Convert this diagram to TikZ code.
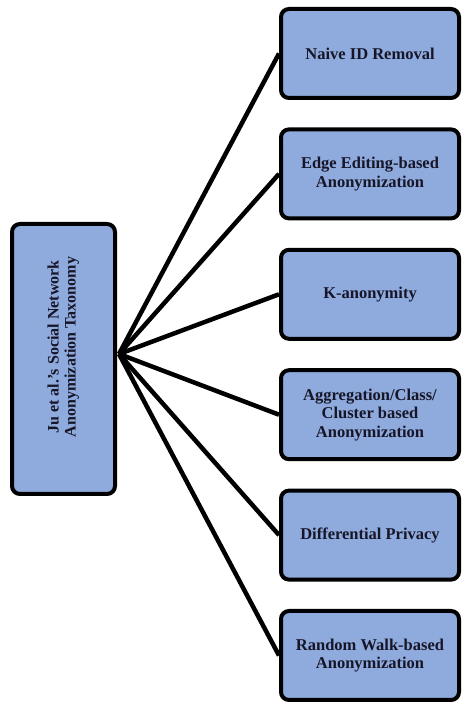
\documentclass[tikz,border=0pt]{standalone}
\usepackage{fontspec}
\setmainfont{Liberation Serif}
\usetikzlibrary{calc}
\definecolor{boxfill}{RGB}{143,170,220}
\definecolor{boxtext}{RGB}{22,22,40}
\begin{document}
\begin{tikzpicture}[x=1pt,y=1pt,
  catbox/.style={draw=black,line width=4pt,rounded corners=8pt,fill=boxfill,
    minimum width=178pt,minimum height=89pt,align=center,text=boxtext,
    font=\fontsize{16.5}{18.5}\selectfont\bfseries,inner sep=2pt},
  rootbox/.style={draw=black,line width=4pt,rounded corners=8pt,fill=boxfill,
    minimum width=270pt,minimum height=103pt,text=boxtext,
    font=\fontsize{16}{18}\selectfont\bfseries,rotate=90,inner sep=2pt},
  link/.style={line width=4.5pt,draw=black}]
\useasboundingbox (0,0) rectangle (474,709);
\node[rootbox] (root) at (63.5,350) {\hspace*{24pt}\begin{tabular}{@{}c@{}}Ju et al.'s Social Network\\[-1pt]Anonymization Taxonomy\end{tabular}};
\node[catbox] (c1) at (370,655.5) {Naive ID Removal};
\node[catbox] (c2) at (370,535.1) {Edge Editing-based\\Anonymization};
\node[catbox] (c3) at (370,414.7) {K-anonymity};
\node[catbox] (c4) at (370,294.3) {Aggregation/Class/\\Cluster based\\Anonymization};
\node[catbox] (c5) at (370,173.9) {Differential Privacy};
\node[catbox] (c6) at (370,53.5) {Random Walk-based\\Anonymization};
\coordinate (hub) at ($(root.south)+(2,5)$);
\foreach \c in {c1,c2,c3,c4,c5,c6}{\draw[link] (hub) -- (\c.west);}
\end{tikzpicture}
\end{document}
